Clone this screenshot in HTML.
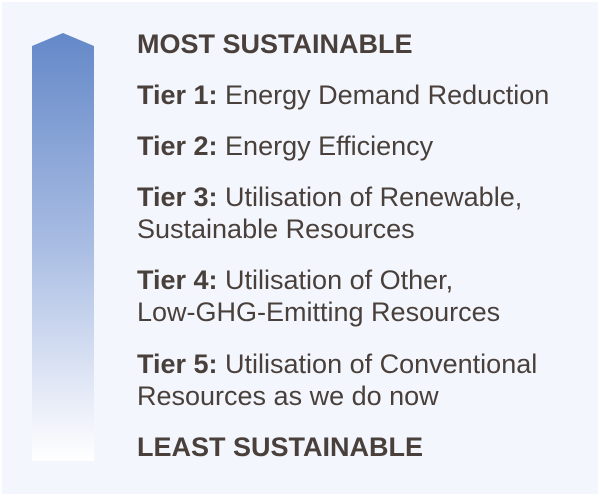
<!DOCTYPE html>
<html><head><style>
body{margin:0;background:#fff;}
.p{position:absolute;left:2px;top:2px;width:596px;height:492px;background:#f3f6fd;}
.t{position:absolute;left:137px;font-family:"Liberation Sans",sans-serif;font-size:27px;color:#4a403b;white-space:nowrap;line-height:32px;}
b{font-weight:bold;}
</style></head><body>
<div class="p"></div>
<svg style="position:absolute;left:0;top:0" width="600" height="496">
<defs><linearGradient id="g" x1="0" y1="0" x2="0" y2="1">
<stop offset="0" stop-color="#6488c8"/><stop offset="0.5" stop-color="#a9bde3"/><stop offset="0.85" stop-color="#e6ebf7"/><stop offset="1" stop-color="#ffffff"/></linearGradient></defs>
<polygon points="32,46 63,33 94,46 94,461 32,461" fill="url(#g)"/>
</svg>
<div class="t" style="top:28px"><b>MOST SUSTAINABLE</b></div>
<div class="t" style="top:79px"><b>Tier 1:</b> Energy Demand Reduction</div>
<div class="t" style="top:130px"><b>Tier 2:</b> Energy Efficiency</div>
<div class="t" style="top:181px"><b>Tier 3:</b> Utilisation of Renewable,<br>Sustainable Resources</div>
<div class="t" style="top:264px"><b>Tier 4:</b> Utilisation of Other,<br>Low-GHG-Emitting Resources</div>
<div class="t" style="top:348px"><b>Tier 5:</b> Utilisation of Conventional<br>Resources as we do now</div>
<div class="t" style="top:431px"><b>LEAST SUSTAINABLE</b></div>
</body></html>
